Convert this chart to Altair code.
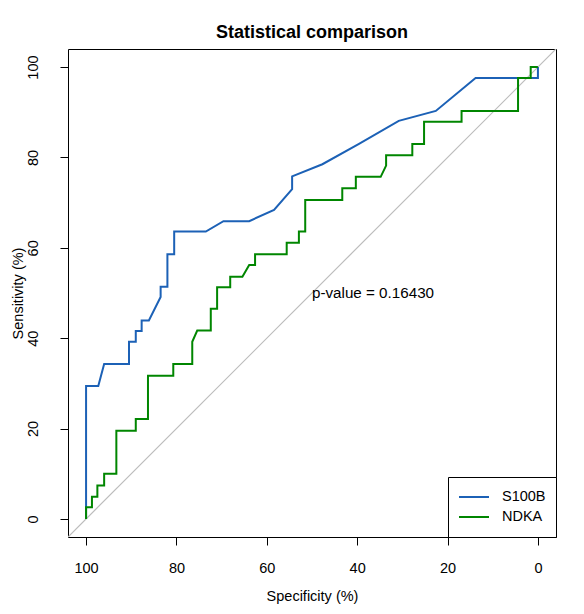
import altair as alt
import pandas as pd

# ROC curves: specificity (%) and sensitivity (%)
s100b_spec = [100, 100, 97.3, 96.0, 90.5, 90.5, 89.0, 89.0, 87.7, 87.7, 86.1, 83.5, 83.5,
              82.0, 82.0, 80.5, 80.5, 73.5, 69.6, 63.9, 58.4, 54.4, 54.4, 47.7, 39.6,
              30.8, 22.6, 13.8, 0, 0]
s100b_sens = [0, 29.4, 29.4, 34.3, 34.3, 39.2, 39.2, 41.6, 41.6, 43.9, 43.9, 49.1, 51.4,
              51.4, 58.6, 58.6, 63.6, 63.6, 65.9, 65.9, 68.4, 73.0, 75.8, 78.5, 83.0,
              88.1, 90.3, 97.6, 97.6, 100]

ndka_spec = [100, 100, 98.7, 98.7, 97.5, 97.5, 96.0, 96.0, 93.3, 93.3, 89.0, 89.0, 86.3,
             86.3, 80.7, 80.7, 76.5, 76.5, 75.4, 72.4, 72.4, 71.0, 71.0, 68.1, 68.1,
             65.4, 63.9, 62.6, 62.6, 55.6, 55.6, 52.9, 52.9, 51.5, 51.5, 43.3, 43.3,
             40.3, 40.3, 34.8, 33.6, 33.6, 27.8, 27.8, 25.2, 25.2, 16.9, 16.9, 4.4,
             4.4, 1.6, 1.6, 0]
ndka_sens = [0, 2.6, 2.6, 4.9, 4.9, 7.4, 7.4, 10.0, 10.0, 19.5, 19.5, 22.1, 22.1,
             31.7, 31.7, 34.3, 34.3, 39.2, 41.7, 41.7, 46.5, 46.5, 51.3, 51.3, 53.6,
             53.6, 56.2, 56.2, 58.6, 58.6, 61.1, 61.1, 63.6, 63.6, 70.6, 70.6, 73.2,
             73.2, 75.7, 75.7, 78.2, 80.5, 80.5, 83.0, 83.0, 87.9, 87.9, 90.3, 90.3,
             97.6, 97.6, 100, 100]

markers = ["S100B", "NDKA"]
colors = ["#1c61b6", "#008600"]

# identity line, drawn corner to corner like abline()
diag_spec = [104, -4]
diag_sens = [-4, 104]

pvalue_text = ["p-value = 0.16430"]
pvalue_spec = [50]
pvalue_sens = [50]

tick_values = [0, 20, 40, 60, 80, 100]
font = "Liberation Sans"

roc = pd.concat([
    pd.DataFrame({"spec": s100b_spec, "sens": s100b_sens, "marker": "S100B"}),
    pd.DataFrame({"spec": ndka_spec, "sens": ndka_sens, "marker": "NDKA"}),
], ignore_index=True)
roc["step"] = roc.groupby("marker").cumcount()

diag = pd.DataFrame({"spec": diag_spec, "sens": diag_sens})
ptext = pd.DataFrame({"spec": pvalue_spec, "sens": pvalue_sens, "label": pvalue_text})

x_enc = alt.X("spec:Q",
              scale=alt.Scale(domain=[-4, 104], reverse=True, nice=False, zero=False),
              axis=alt.Axis(values=tick_values, title="Specificity (%)", grid=False,
                            domain=False, tickSize=8, tickColor="black",
                            labelColor="black", labelFontSize=14.5, labelPadding=27,
                            labelBaseline="alphabetic", titleFontSize=14.5,
                            titleFontWeight="normal", titleColor="black",
                            titleBaseline="alphabetic", titleY=63))
y_enc = alt.Y("sens:Q",
              scale=alt.Scale(domain=[-4, 104], nice=False, zero=False),
              axis=alt.Axis(values=tick_values, title="Sensitivity (%)", grid=False,
                            domain=False, tickSize=8, tickColor="black",
                            labelColor="black", labelFontSize=14.5, labelAngle=270,
                            labelAlign="center", labelBaseline="middle", labelPadding=27,
                            titleFontSize=14.5, titleFontWeight="normal",
                            titleColor="black", titleAngle=270, titleAlign="center",
                            titleBaseline="alphabetic", titleX=-46, titleY=244))

diagonal = alt.Chart(diag).mark_line(color="#bcbcbc", strokeWidth=1.2, clip=True).encode(
    x=x_enc, y=y_enc,
)

curves = alt.Chart(roc).mark_line(strokeWidth=2, clip=True).encode(
    x=x_enc, y=y_enc,
    color=alt.Color("marker:N", scale=alt.Scale(domain=markers, range=colors),
                    legend=alt.Legend(title=None)),
    order="step:Q",
)

pval = alt.Chart(ptext).mark_text(align="left", baseline="middle", fontSize=15.2,
                                  font=font, color="black").encode(
    x=x_enc, y=y_enc,
    text="label:N",
)

chart = alt.layer(diagonal, curves, pval).properties(
    width=488,
    height=488,
    title=alt.TitleParams("Statistical comparison", fontSize=18, fontWeight="bold",
                          font=font, color="black", anchor="middle", frame="group",
                          baseline="alphabetic", offset=11, dy=18),
    autosize=alt.AutoSizeParams(type="none"),
    padding={"left": 60, "top": 41, "right": 20, "bottom": 68},
).configure(font=font).configure_view(
    stroke="black", strokeWidth=1
).configure_legend(
    orient="bottom-right", offset=0, strokeColor="black", fillColor="white",
    padding=10, cornerRadius=0, symbolType="stroke", symbolSize=900,
    symbolStrokeWidth=2, labelFontSize=14.5, labelOffset=12, labelColor="black",
    clipHeight=20, rowPadding=0, labelFont=font,
)

chart.save("out.html", embed_options={"renderer": "svg", "actions": False})
